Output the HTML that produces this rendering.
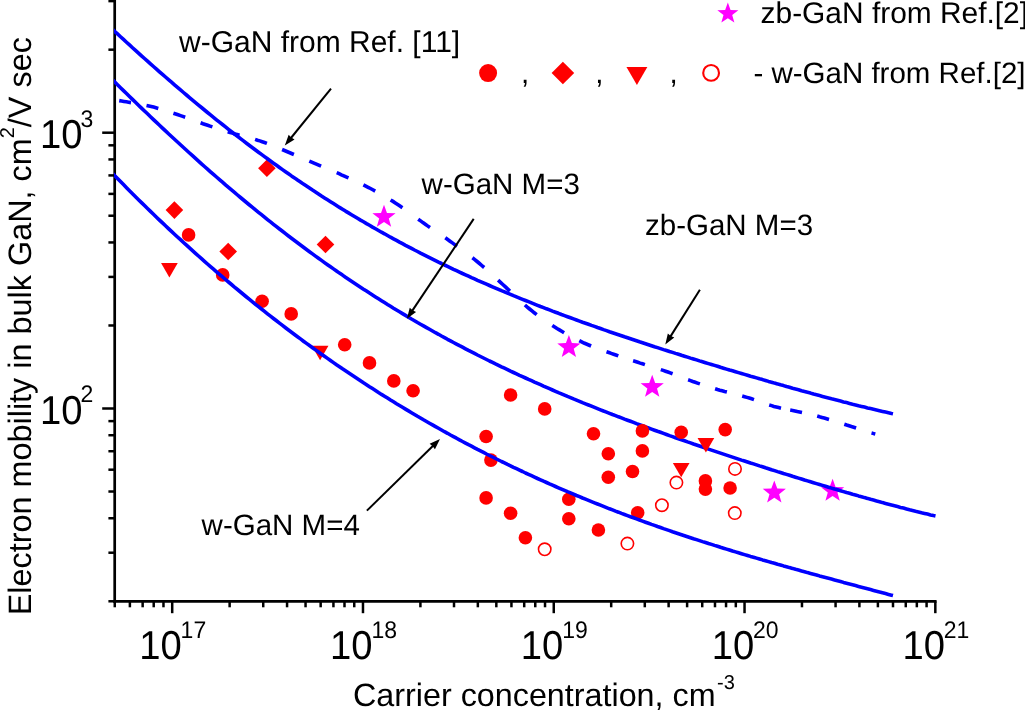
<!DOCTYPE html>
<html><head><meta charset="utf-8"><title>Electron mobility in bulk GaN</title>
<style>html,body{margin:0;padding:0;background:#fff;overflow:hidden}svg{display:block}</style>
</head><body>
<svg width="1025" height="710" viewBox="0 0 1025 710">
<rect x="0" y="0" width="1025" height="710" fill="#fff"/>
<g stroke="#000" stroke-width="2.7" fill="none">
<line x1="114.7" y1="0" x2="114.7" y2="602.8"/>
<line x1="113.4" y1="601.4" x2="936.6" y2="601.4"/>
</g>
<g stroke="#000" stroke-width="2.5" fill="none">
<line x1="108.4" y1="601.28" x2="114.7" y2="601.28"/>
<line x1="108.4" y1="552.71" x2="114.7" y2="552.71"/>
<line x1="108.4" y1="518.25" x2="114.7" y2="518.25"/>
<line x1="108.4" y1="491.52" x2="114.7" y2="491.52"/>
<line x1="108.4" y1="469.69" x2="114.7" y2="469.69"/>
<line x1="108.4" y1="451.22" x2="114.7" y2="451.22"/>
<line x1="108.4" y1="435.23" x2="114.7" y2="435.23"/>
<line x1="108.4" y1="421.12" x2="114.7" y2="421.12"/>
<line x1="102.2" y1="408.50" x2="114.7" y2="408.50"/>
<line x1="108.4" y1="325.48" x2="114.7" y2="325.48"/>
<line x1="108.4" y1="276.91" x2="114.7" y2="276.91"/>
<line x1="108.4" y1="242.45" x2="114.7" y2="242.45"/>
<line x1="108.4" y1="215.72" x2="114.7" y2="215.72"/>
<line x1="108.4" y1="193.89" x2="114.7" y2="193.89"/>
<line x1="108.4" y1="175.42" x2="114.7" y2="175.42"/>
<line x1="108.4" y1="159.43" x2="114.7" y2="159.43"/>
<line x1="108.4" y1="145.32" x2="114.7" y2="145.32"/>
<line x1="102.2" y1="132.70" x2="114.7" y2="132.70"/>
<line x1="108.4" y1="49.68" x2="114.7" y2="49.68"/>
<line x1="108.4" y1="1.11" x2="114.7" y2="1.11"/>
<line x1="114.77" y1="601.4" x2="114.77" y2="607.3"/>
<line x1="129.88" y1="601.4" x2="129.88" y2="607.3"/>
<line x1="142.65" y1="601.4" x2="142.65" y2="607.3"/>
<line x1="153.71" y1="601.4" x2="153.71" y2="607.3"/>
<line x1="163.47" y1="601.4" x2="163.47" y2="607.3"/>
<line x1="172.20" y1="601.4" x2="172.20" y2="613.2"/>
<line x1="229.63" y1="601.4" x2="229.63" y2="607.3"/>
<line x1="263.23" y1="601.4" x2="263.23" y2="607.3"/>
<line x1="287.06" y1="601.4" x2="287.06" y2="607.3"/>
<line x1="305.55" y1="601.4" x2="305.55" y2="607.3"/>
<line x1="320.66" y1="601.4" x2="320.66" y2="607.3"/>
<line x1="333.43" y1="601.4" x2="333.43" y2="607.3"/>
<line x1="344.49" y1="601.4" x2="344.49" y2="607.3"/>
<line x1="354.25" y1="601.4" x2="354.25" y2="607.3"/>
<line x1="362.98" y1="601.4" x2="362.98" y2="613.2"/>
<line x1="420.41" y1="601.4" x2="420.41" y2="607.3"/>
<line x1="454.01" y1="601.4" x2="454.01" y2="607.3"/>
<line x1="477.84" y1="601.4" x2="477.84" y2="607.3"/>
<line x1="496.33" y1="601.4" x2="496.33" y2="607.3"/>
<line x1="511.44" y1="601.4" x2="511.44" y2="607.3"/>
<line x1="524.21" y1="601.4" x2="524.21" y2="607.3"/>
<line x1="535.27" y1="601.4" x2="535.27" y2="607.3"/>
<line x1="545.03" y1="601.4" x2="545.03" y2="607.3"/>
<line x1="553.76" y1="601.4" x2="553.76" y2="613.2"/>
<line x1="611.19" y1="601.4" x2="611.19" y2="607.3"/>
<line x1="644.79" y1="601.4" x2="644.79" y2="607.3"/>
<line x1="668.62" y1="601.4" x2="668.62" y2="607.3"/>
<line x1="687.11" y1="601.4" x2="687.11" y2="607.3"/>
<line x1="702.22" y1="601.4" x2="702.22" y2="607.3"/>
<line x1="714.99" y1="601.4" x2="714.99" y2="607.3"/>
<line x1="726.05" y1="601.4" x2="726.05" y2="607.3"/>
<line x1="735.81" y1="601.4" x2="735.81" y2="607.3"/>
<line x1="744.54" y1="601.4" x2="744.54" y2="613.2"/>
<line x1="801.97" y1="601.4" x2="801.97" y2="607.3"/>
<line x1="835.57" y1="601.4" x2="835.57" y2="607.3"/>
<line x1="859.40" y1="601.4" x2="859.40" y2="607.3"/>
<line x1="877.89" y1="601.4" x2="877.89" y2="607.3"/>
<line x1="893.00" y1="601.4" x2="893.00" y2="607.3"/>
<line x1="905.77" y1="601.4" x2="905.77" y2="607.3"/>
<line x1="916.83" y1="601.4" x2="916.83" y2="607.3"/>
<line x1="926.59" y1="601.4" x2="926.59" y2="607.3"/>
<line x1="935.32" y1="601.4" x2="935.32" y2="613.2"/>
</g>
<clipPath id="pc"><rect x="113.9" y="0" width="911" height="710"/></clipPath>
<g fill="#ff00ff">
<polygon points="384.00,204.80 386.98,212.90 395.60,213.23 388.82,218.56 391.17,226.87 384.00,222.06 376.83,226.87 379.18,218.56 372.40,213.23 381.02,212.90"/>
<polygon points="568.90,335.00 571.88,343.10 580.50,343.43 573.72,348.76 576.07,357.07 568.90,352.26 561.73,357.07 564.08,348.76 557.30,343.43 565.92,343.10"/>
<polygon points="652.20,374.80 655.18,382.90 663.80,383.23 657.02,388.56 659.37,396.87 652.20,392.06 645.03,396.87 647.38,388.56 640.60,383.23 649.22,382.90"/>
<polygon points="774.30,480.40 777.28,488.50 785.90,488.83 779.12,494.16 781.47,502.47 774.30,497.66 767.13,502.47 769.48,494.16 762.70,488.83 771.32,488.50"/>
<polygon points="832.60,478.80 835.58,486.90 844.20,487.23 837.42,492.56 839.77,500.87 832.60,496.06 825.43,500.87 827.78,492.56 821.00,487.23 829.62,486.90"/>
</g>
<g fill="#ff0000">
<polygon points="174.40,201.30 183.20,210.10 174.40,218.90 165.60,210.10"/>
<polygon points="228.20,242.70 237.00,251.50 228.20,260.30 219.40,251.50"/>
<polygon points="266.90,159.40 275.70,168.20 266.90,177.00 258.10,168.20"/>
<polygon points="325.50,235.70 334.30,244.50 325.50,253.30 316.70,244.50"/>
</g>
<g fill="none" stroke="#0000ff" stroke-width="3.6" stroke-linejoin="round" clip-path="url(#pc)">
<path d="M111.5 28.4 L114.5 31.2 L117.5 33.9 L120.5 36.7 L123.5 39.4 L126.5 42.2 L129.5 44.9 L132.5 47.7 L135.5 50.4 L138.5 53.1 L141.5 55.8 L144.5 58.5 L147.5 61.2 L150.5 63.8 L153.5 66.5 L156.5 69.1 L159.5 71.8 L162.5 74.4 L165.5 77.0 L168.5 79.6 L171.5 82.2 L174.5 84.8 L177.5 87.4 L180.5 89.9 L183.5 92.5 L186.5 95.0 L189.5 97.6 L192.5 100.1 L195.5 102.6 L198.5 105.1 L201.5 107.5 L204.5 110.0 L207.5 112.5 L210.5 114.9 L213.5 117.3 L216.5 119.8 L219.5 122.2 L222.5 124.5 L225.5 126.9 L228.5 129.3 L231.5 131.6 L234.5 134.0 L237.5 136.3 L240.5 138.6 L243.5 140.9 L246.5 143.2 L249.5 145.5 L252.5 147.7 L255.5 150.0 L258.5 152.2 L261.5 154.4 L264.5 156.6 L267.5 158.8 L270.5 161.0 L273.5 163.2 L276.5 165.3 L279.5 167.5 L282.5 169.6 L285.5 171.7 L288.5 173.8 L291.5 175.9 L294.5 177.9 L297.5 180.0 L300.5 182.0 L303.5 184.1 L306.5 186.1 L309.5 188.1 L312.5 190.1 L315.5 192.0 L318.5 194.0 L321.5 196.0 L324.5 197.9 L327.5 199.8 L330.5 201.7 L333.5 203.6 L336.5 205.5 L339.5 207.4 L342.5 209.2 L345.5 211.1 L348.5 212.9 L351.5 214.7 L354.5 216.5 L357.5 218.3 L360.5 220.1 L363.5 221.8 L366.5 223.6 L369.5 225.3 L372.5 227.1 L375.5 228.8 L378.5 230.5 L381.5 232.2 L384.5 233.8 L387.5 235.5 L390.5 237.2 L393.5 238.8 L396.5 240.4 L399.5 242.1 L402.5 243.7 L405.5 245.3 L408.5 246.8 L411.5 248.4 L414.5 250.0 L417.5 251.5 L420.5 253.1 L423.5 254.6 L426.5 256.1 L429.5 257.6 L432.5 259.1 L435.5 260.6 L438.5 262.1 L441.5 263.5 L444.5 265.0 L447.5 266.4 L450.5 267.8 L453.5 269.3 L456.5 270.7 L459.5 272.1 L462.5 273.5 L465.5 274.8 L468.5 276.2 L471.5 277.6 L474.5 278.9 L477.5 280.3 L480.5 281.6 L483.5 282.9 L486.5 284.2 L489.5 285.5 L492.5 286.8 L495.5 288.1 L498.5 289.4 L501.5 290.7 L504.5 291.9 L507.5 293.2 L510.5 294.4 L513.5 295.7 L516.5 296.9 L519.5 298.1 L522.5 299.3 L525.5 300.5 L528.5 301.7 L531.5 302.9 L534.5 304.1 L537.5 305.3 L540.5 306.5 L543.5 307.6 L546.5 308.8 L549.5 309.9 L552.5 311.1 L555.5 312.2 L558.5 313.3 L561.5 314.5 L564.5 315.6 L567.5 316.7 L570.5 317.8 L573.5 318.9 L576.5 320.0 L579.5 321.1 L582.5 322.2 L585.5 323.2 L588.5 324.3 L591.5 325.4 L594.5 326.4 L597.5 327.5 L600.5 328.5 L603.5 329.6 L606.5 330.6 L609.5 331.7 L612.5 332.7 L615.5 333.7 L618.5 334.7 L621.5 335.7 L624.5 336.8 L627.5 337.8 L630.5 338.8 L633.5 339.8 L636.5 340.8 L639.5 341.8 L642.5 342.7 L645.5 343.7 L648.5 344.7 L651.5 345.7 L654.5 346.7 L657.5 347.6 L660.5 348.6 L663.5 349.6 L666.5 350.5 L669.5 351.5 L672.5 352.4 L675.5 353.4 L678.5 354.3 L681.5 355.3 L684.5 356.2 L687.5 357.1 L690.5 358.1 L693.5 359.0 L696.5 359.9 L699.5 360.9 L702.5 361.8 L705.5 362.7 L708.5 363.6 L711.5 364.5 L714.5 365.4 L717.5 366.3 L720.5 367.3 L723.5 368.2 L726.5 369.1 L729.5 370.0 L732.5 370.8 L735.5 371.7 L738.5 372.6 L741.5 373.5 L744.5 374.4 L747.5 375.3 L750.5 376.2 L753.5 377.0 L756.5 377.9 L759.5 378.8 L762.5 379.6 L765.5 380.5 L768.5 381.4 L771.5 382.2 L774.5 383.1 L777.5 383.9 L780.5 384.8 L783.5 385.6 L786.5 386.5 L789.5 387.3 L792.5 388.2 L795.5 389.0 L798.5 389.8 L801.5 390.7 L804.5 391.5 L807.5 392.3 L810.5 393.1 L813.5 394.0 L816.5 394.8 L819.5 395.6 L822.5 396.4 L825.5 397.2 L828.5 398.0 L831.5 398.8 L834.5 399.5 L837.5 400.3 L840.5 401.1 L843.5 401.9 L846.5 402.6 L849.5 403.4 L852.5 404.2 L855.5 404.9 L858.5 405.7 L861.5 406.4 L864.5 407.1 L867.5 407.9 L870.5 408.6 L873.5 409.3 L876.5 410.0 L879.5 410.7 L882.5 411.4 L885.5 412.1 L888.5 412.8 L891.5 413.5 L893.0 413.8"/>
<path d="M111.5 78.8 L114.5 81.8 L117.5 84.7 L120.5 87.7 L123.5 90.6 L126.5 93.5 L129.5 96.5 L132.5 99.4 L135.5 102.3 L138.5 105.2 L141.5 108.1 L144.5 111.0 L147.5 113.8 L150.5 116.7 L153.5 119.6 L156.5 122.4 L159.5 125.2 L162.5 128.1 L165.5 130.9 L168.5 133.7 L171.5 136.5 L174.5 139.3 L177.5 142.0 L180.5 144.8 L183.5 147.5 L186.5 150.3 L189.5 153.0 L192.5 155.7 L195.5 158.4 L198.5 161.1 L201.5 163.8 L204.5 166.5 L207.5 169.1 L210.5 171.8 L213.5 174.4 L216.5 177.0 L219.5 179.6 L222.5 182.2 L225.5 184.8 L228.5 187.4 L231.5 189.9 L234.5 192.4 L237.5 195.0 L240.5 197.5 L243.5 200.0 L246.5 202.5 L249.5 205.0 L252.5 207.4 L255.5 209.9 L258.5 212.3 L261.5 214.7 L264.5 217.2 L267.5 219.6 L270.5 221.9 L273.5 224.3 L276.5 226.7 L279.5 229.0 L282.5 231.3 L285.5 233.7 L288.5 236.0 L291.5 238.3 L294.5 240.5 L297.5 242.8 L300.5 245.0 L303.5 247.3 L306.5 249.5 L309.5 251.7 L312.5 253.9 L315.5 256.1 L318.5 258.3 L321.5 260.4 L324.5 262.6 L327.5 264.7 L330.5 266.8 L333.5 268.9 L336.5 271.0 L339.5 273.1 L342.5 275.1 L345.5 277.2 L348.5 279.2 L351.5 281.2 L354.5 283.2 L357.5 285.2 L360.5 287.2 L363.5 289.2 L366.5 291.1 L369.5 293.1 L372.5 295.0 L375.5 296.9 L378.5 298.8 L381.5 300.7 L384.5 302.6 L387.5 304.5 L390.5 306.3 L393.5 308.2 L396.5 310.0 L399.5 311.8 L402.5 313.6 L405.5 315.4 L408.5 317.2 L411.5 319.0 L414.5 320.7 L417.5 322.5 L420.5 324.2 L423.5 325.9 L426.5 327.6 L429.5 329.3 L432.5 331.0 L435.5 332.7 L438.5 334.3 L441.5 336.0 L444.5 337.6 L447.5 339.3 L450.5 340.9 L453.5 342.5 L456.5 344.1 L459.5 345.7 L462.5 347.2 L465.5 348.8 L468.5 350.4 L471.5 351.9 L474.5 353.4 L477.5 355.0 L480.5 356.5 L483.5 358.0 L486.5 359.5 L489.5 361.0 L492.5 362.4 L495.5 363.9 L498.5 365.3 L501.5 366.8 L504.5 368.2 L507.5 369.6 L510.5 371.1 L513.5 372.5 L516.5 373.9 L519.5 375.3 L522.5 376.6 L525.5 378.0 L528.5 379.4 L531.5 380.7 L534.5 382.1 L537.5 383.4 L540.5 384.7 L543.5 386.1 L546.5 387.4 L549.5 388.7 L552.5 390.0 L555.5 391.3 L558.5 392.6 L561.5 393.8 L564.5 395.1 L567.5 396.4 L570.5 397.6 L573.5 398.9 L576.5 400.1 L579.5 401.3 L582.5 402.6 L585.5 403.8 L588.5 405.0 L591.5 406.2 L594.5 407.4 L597.5 408.6 L600.5 409.8 L603.5 411.0 L606.5 412.1 L609.5 413.3 L612.5 414.5 L615.5 415.6 L618.5 416.8 L621.5 417.9 L624.5 419.1 L627.5 420.2 L630.5 421.3 L633.5 422.4 L636.5 423.6 L639.5 424.7 L642.5 425.8 L645.5 426.9 L648.5 428.0 L651.5 429.1 L654.5 430.2 L657.5 431.3 L660.5 432.3 L663.5 433.4 L666.5 434.5 L669.5 435.6 L672.5 436.6 L675.5 437.7 L678.5 438.7 L681.5 439.8 L684.5 440.8 L687.5 441.9 L690.5 442.9 L693.5 444.0 L696.5 445.0 L699.5 446.0 L702.5 447.0 L705.5 448.1 L708.5 449.1 L711.5 450.1 L714.5 451.1 L717.5 452.1 L720.5 453.1 L723.5 454.1 L726.5 455.1 L729.5 456.1 L732.5 457.1 L735.5 458.1 L738.5 459.1 L741.5 460.1 L744.5 461.0 L747.5 462.0 L750.5 463.0 L753.5 463.9 L756.5 464.9 L759.5 465.9 L762.5 466.8 L765.5 467.8 L768.5 468.7 L771.5 469.7 L774.5 470.6 L777.5 471.6 L780.5 472.5 L783.5 473.5 L786.5 474.4 L789.5 475.3 L792.5 476.3 L795.5 477.2 L798.5 478.1 L801.5 479.0 L804.5 480.0 L807.5 480.9 L810.5 481.8 L813.5 482.7 L816.5 483.6 L819.5 484.5 L822.5 485.4 L825.5 486.3 L828.5 487.2 L831.5 488.1 L834.5 489.0 L837.5 489.8 L840.5 490.7 L843.5 491.6 L846.5 492.5 L849.5 493.3 L852.5 494.2 L855.5 495.0 L858.5 495.9 L861.5 496.7 L864.5 497.6 L867.5 498.4 L870.5 499.3 L873.5 500.1 L876.5 500.9 L879.5 501.7 L882.5 502.6 L885.5 503.4 L888.5 504.2 L891.5 505.0 L894.5 505.8 L897.5 506.6 L900.5 507.4 L903.5 508.1 L906.5 508.9 L909.5 509.7 L912.5 510.4 L915.5 511.2 L918.5 511.9 L921.5 512.7 L924.5 513.4 L927.5 514.1 L930.5 514.9 L933.5 515.6 L935.5 516.0"/>
</g>
<g fill="none" stroke="#0000ff" stroke-width="3.6">
<path d="M119.2 100.6 L121.6 101.0 L123.9 101.4 L126.3 101.8 L128.6 102.2 L131.0 102.6"/>
<path d="M146.5 105.5 L148.9 106.0 L151.2 106.5 L153.6 107.1 L155.9 107.7 L158.3 108.4"/>
<path d="M173.4 113.2 L175.8 114.0 L178.1 114.8 L180.5 115.6 L182.8 116.4 L185.2 117.2"/>
<path d="M200.6 122.8 L203.0 123.7 L205.3 124.5 L207.7 125.3 L210.0 126.1 L212.4 126.9"/>
<path d="M227.7 131.7 L230.1 132.4 L232.4 133.1 L234.8 133.9 L237.1 134.5 L239.5 135.2"/>
<path d="M255.1 139.4 L257.5 140.2 L259.8 140.9 L262.2 141.7 L264.5 142.5 L266.9 143.4"/>
<path d="M282.1 149.5 L284.5 150.5 L286.8 151.5 L289.2 152.5 L291.5 153.5 L293.9 154.5"/>
<path d="M309.3 161.2 L311.7 162.2 L314.0 163.2 L316.4 164.2 L318.7 165.2 L321.1 166.2"/>
<path d="M336.7 172.7 L339.1 173.7 L341.4 174.8 L343.8 175.8 L346.1 176.9 L348.5 177.9"/>
<path d="M363.4 184.9 L365.8 186.1 L368.1 187.3 L370.5 188.5 L372.8 189.8 L375.2 191.1"/>
<path d="M390.6 200.0 L393.0 201.4 L395.3 202.9 L397.7 204.5 L400.0 206.1 L402.4 207.7"/>
<path d="M418.2 219.2 L420.6 220.9 L422.9 222.6 L425.3 224.2 L427.6 225.9 L430.0 227.5"/>
<path d="M445.3 237.8 L447.7 239.5 L450.0 241.2 L452.4 242.9 L454.7 244.6 L457.1 246.3"/>
<path d="M472.4 257.8 L474.8 259.6 L477.1 261.5 L479.5 263.5 L481.8 265.5 L484.2 267.5"/>
<path d="M498.1 280.2 L500.5 282.4 L502.8 284.5 L505.2 286.7 L507.5 288.9 L509.9 291.1"/>
<path d="M524.9 305.0 L527.3 307.1 L529.6 309.0 L532.0 310.9 L534.3 312.8 L536.7 314.6"/>
<path d="M552.3 325.5 L554.7 327.0 L557.0 328.5 L559.4 329.9 L561.7 331.3 L564.1 332.7"/>
<path d="M579.3 340.7 L581.7 341.9 L584.0 343.0 L586.4 344.0 L588.7 345.0 L591.1 346.0"/>
<path d="M606.5 351.7 L608.9 352.5 L611.2 353.4 L613.6 354.2 L615.9 355.0 L618.3 355.9"/>
<path d="M633.1 360.8 L635.5 361.5 L637.8 362.3 L640.2 363.1 L642.5 363.8 L644.9 364.6"/>
<path d="M660.8 369.6 L663.2 370.4 L665.5 371.2 L667.9 372.0 L670.2 372.9 L672.6 373.8"/>
<path d="M688.1 379.8 L690.5 380.6 L692.8 381.5 L695.2 382.3 L697.5 383.1 L699.9 383.9"/>
<path d="M715.1 388.7 L717.5 389.5 L719.8 390.2 L722.2 390.8 L724.5 391.5 L726.9 392.1"/>
<path d="M742.2 396.0 L744.6 396.7 L746.9 397.4 L749.3 398.1 L751.6 398.8 L754.0 399.6"/>
<path d="M769.2 404.9 L771.6 405.6 L773.9 406.4 L776.3 407.0 L778.6 407.6 L781.0 408.2"/>
<path d="M790.2 410.0 L792.6 410.4 L794.9 410.9 L797.3 411.5 L799.6 412.0 L802.0 412.5"/>
<path d="M817.2 416.1 L819.6 416.8 L821.9 417.4 L824.3 418.0 L826.6 418.7 L829.0 419.4"/>
<path d="M844.3 424.2 L846.7 425.0 L849.0 425.7 L851.4 426.5 L853.7 427.2 L856.1 428.0"/>
<path d="M871.5 432.9 L872.3 433.1 L873.0 433.4 L873.8 433.6 L874.5 433.9 L875.3 434.1"/>
</g>
<g fill="#ff0000">
<circle cx="188.6" cy="234.9" r="6.8"/>
<circle cx="222.7" cy="274.9" r="6.8"/>
<circle cx="262.1" cy="301.3" r="6.8"/>
<circle cx="291.2" cy="313.9" r="6.8"/>
<circle cx="344.7" cy="344.8" r="6.8"/>
<circle cx="369.5" cy="362.9" r="6.8"/>
<circle cx="393.8" cy="380.9" r="6.8"/>
<circle cx="413.1" cy="390.7" r="6.8"/>
<circle cx="486.1" cy="436.5" r="6.8"/>
<circle cx="490.9" cy="460.1" r="6.8"/>
<circle cx="486.1" cy="497.9" r="6.8"/>
<circle cx="510.6" cy="395.0" r="6.8"/>
<circle cx="510.6" cy="513.2" r="6.8"/>
<circle cx="525.4" cy="537.7" r="6.8"/>
<circle cx="544.7" cy="408.9" r="6.8"/>
<circle cx="568.8" cy="499.2" r="6.8"/>
<circle cx="568.8" cy="518.7" r="6.8"/>
<circle cx="593.5" cy="433.7" r="6.8"/>
<circle cx="598.4" cy="530.0" r="6.8"/>
<circle cx="608.3" cy="453.7" r="6.8"/>
<circle cx="608.3" cy="477.3" r="6.8"/>
<circle cx="632.5" cy="471.5" r="6.8"/>
<circle cx="637.7" cy="512.7" r="6.8"/>
<circle cx="642.4" cy="430.9" r="6.8"/>
<circle cx="642.4" cy="450.9" r="6.8"/>
<circle cx="681.2" cy="432.2" r="6.8"/>
<circle cx="705.4" cy="480.9" r="6.8"/>
<circle cx="705.4" cy="489.1" r="6.8"/>
<circle cx="725.2" cy="429.6" r="6.8"/>
<circle cx="730.1" cy="488.0" r="6.8"/>
<polygon points="161.05,263.10 177.75,263.10 169.40,277.56"/>
<polygon points="311.75,345.80 328.45,345.80 320.10,360.26"/>
<polygon points="697.55,438.00 714.25,438.00 705.90,452.46"/>
<polygon points="672.85,462.90 689.55,462.90 681.20,477.36"/>
</g>
<g fill="none" stroke="#ff0000" stroke-width="1.6">
<circle cx="544.7" cy="549.3" r="6.2"/>
<circle cx="627.4" cy="543.6" r="6.2"/>
<circle cx="661.9" cy="505.2" r="6.2"/>
<circle cx="676.4" cy="482.6" r="6.2"/>
<circle cx="735.0" cy="468.9" r="6.2"/>
<circle cx="734.8" cy="513.1" r="6.2"/>
</g>
<path fill="none" stroke="#0000ff" stroke-width="3.6" stroke-linejoin="round" clip-path="url(#pc)" d="M111.5 172.3 L114.5 175.4 L117.5 178.5 L120.5 181.6 L123.5 184.6 L126.5 187.7 L129.5 190.7 L132.5 193.7 L135.5 196.7 L138.5 199.7 L141.5 202.6 L144.5 205.6 L147.5 208.5 L150.5 211.4 L153.5 214.3 L156.5 217.2 L159.5 220.1 L162.5 222.9 L165.5 225.7 L168.5 228.6 L171.5 231.4 L174.5 234.2 L177.5 237.0 L180.5 239.7 L183.5 242.5 L186.5 245.2 L189.5 247.9 L192.5 250.6 L195.5 253.3 L198.5 256.0 L201.5 258.7 L204.5 261.3 L207.5 264.0 L210.5 266.6 L213.5 269.2 L216.5 271.8 L219.5 274.4 L222.5 276.9 L225.5 279.5 L228.5 282.0 L231.5 284.5 L234.5 287.1 L237.5 289.5 L240.5 292.0 L243.5 294.5 L246.5 297.0 L249.5 299.4 L252.5 301.8 L255.5 304.3 L258.5 306.7 L261.5 309.0 L264.5 311.4 L267.5 313.8 L270.5 316.1 L273.5 318.5 L276.5 320.8 L279.5 323.1 L282.5 325.4 L285.5 327.7 L288.5 330.0 L291.5 332.2 L294.5 334.5 L297.5 336.7 L300.5 338.9 L303.5 341.2 L306.5 343.4 L309.5 345.5 L312.5 347.7 L315.5 349.9 L318.5 352.0 L321.5 354.2 L324.5 356.3 L327.5 358.4 L330.5 360.5 L333.5 362.6 L336.5 364.7 L339.5 366.7 L342.5 368.8 L345.5 370.8 L348.5 372.8 L351.5 374.8 L354.5 376.8 L357.5 378.8 L360.5 380.8 L363.5 382.8 L366.5 384.7 L369.5 386.7 L372.5 388.6 L375.5 390.5 L378.5 392.5 L381.5 394.4 L384.5 396.2 L387.5 398.1 L390.5 400.0 L393.5 401.8 L396.5 403.7 L399.5 405.5 L402.5 407.3 L405.5 409.1 L408.5 410.9 L411.5 412.7 L414.5 414.5 L417.5 416.3 L420.5 418.0 L423.5 419.8 L426.5 421.5 L429.5 423.2 L432.5 424.9 L435.5 426.6 L438.5 428.3 L441.5 430.0 L444.5 431.7 L447.5 433.3 L450.5 435.0 L453.5 436.6 L456.5 438.2 L459.5 439.9 L462.5 441.5 L465.5 443.1 L468.5 444.7 L471.5 446.2 L474.5 447.8 L477.5 449.4 L480.5 450.9 L483.5 452.4 L486.5 454.0 L489.5 455.5 L492.5 457.0 L495.5 458.5 L498.5 460.0 L501.5 461.5 L504.5 462.9 L507.5 464.4 L510.5 465.8 L513.5 467.3 L516.5 468.7 L519.5 470.1 L522.5 471.5 L525.5 473.0 L528.5 474.3 L531.5 475.7 L534.5 477.1 L537.5 478.5 L540.5 479.8 L543.5 481.2 L546.5 482.5 L549.5 483.9 L552.5 485.2 L555.5 486.5 L558.5 487.8 L561.5 489.1 L564.5 490.4 L567.5 491.7 L570.5 492.9 L573.5 494.2 L576.5 495.5 L579.5 496.7 L582.5 498.0 L585.5 499.2 L588.5 500.4 L591.5 501.6 L594.5 502.8 L597.5 504.0 L600.5 505.2 L603.5 506.4 L606.5 507.6 L609.5 508.8 L612.5 509.9 L615.5 511.1 L618.5 512.2 L621.5 513.4 L624.5 514.5 L627.5 515.6 L630.5 516.7 L633.5 517.8 L636.5 518.9 L639.5 520.0 L642.5 521.1 L645.5 522.2 L648.5 523.3 L651.5 524.4 L654.5 525.4 L657.5 526.5 L660.5 527.5 L663.5 528.6 L666.5 529.6 L669.5 530.6 L672.5 531.7 L675.5 532.7 L678.5 533.7 L681.5 534.7 L684.5 535.7 L687.5 536.7 L690.5 537.7 L693.5 538.7 L696.5 539.6 L699.5 540.6 L702.5 541.6 L705.5 542.5 L708.5 543.5 L711.5 544.4 L714.5 545.4 L717.5 546.3 L720.5 547.3 L723.5 548.2 L726.5 549.1 L729.5 550.0 L732.5 551.0 L735.5 551.9 L738.5 552.8 L741.5 553.7 L744.5 554.6 L747.5 555.5 L750.5 556.4 L753.5 557.2 L756.5 558.1 L759.5 559.0 L762.5 559.9 L765.5 560.7 L768.5 561.6 L771.5 562.5 L774.5 563.3 L777.5 564.2 L780.5 565.0 L783.5 565.9 L786.5 566.7 L789.5 567.6 L792.5 568.4 L795.5 569.3 L798.5 570.1 L801.5 570.9 L804.5 571.7 L807.5 572.6 L810.5 573.4 L813.5 574.2 L816.5 575.0 L819.5 575.9 L822.5 576.7 L825.5 577.5 L828.5 578.3 L831.5 579.1 L834.5 579.9 L837.5 580.7 L840.5 581.5 L843.5 582.4 L846.5 583.2 L849.5 584.0 L852.5 584.8 L855.5 585.6 L858.5 586.4 L861.5 587.2 L864.5 588.0 L867.5 588.8 L870.5 589.6 L873.5 590.4 L876.5 591.2 L879.5 592.0 L882.5 592.8 L885.5 593.6 L888.5 594.4 L891.5 595.2 L893.0 595.6"/>
<line x1="331.0" y1="88.7" x2="288.9" y2="140.5" stroke="#000" stroke-width="2"/><polygon fill="#000" points="284.80,145.50 288.67,134.72 291.27,137.54 294.56,139.52"/>
<line x1="473.7" y1="218.9" x2="410.5" y2="313.4" stroke="#000" stroke-width="2"/><polygon fill="#000" points="406.90,318.80 409.74,307.71 412.60,310.27 416.06,311.93"/>
<line x1="699.9" y1="289.7" x2="668.8" y2="339.1" stroke="#000" stroke-width="2"/><polygon fill="#000" points="665.30,344.60 667.84,333.44 670.77,335.92 674.27,337.49"/>
<line x1="366.9" y1="510.6" x2="435.4" y2="443.5" stroke="#000" stroke-width="2"/><polygon fill="#000" points="440.00,439.00 434.94,449.27 432.67,446.18 429.63,443.84"/>
<g font-family="Liberation Sans, Arial, sans-serif" text-rendering="geometricPrecision" fill="#000">
<text transform="translate(139.30,659.20) scale(1,1.057)" font-size="38.2">10</text>
<text transform="translate(180.60,638.30) scale(1,1.041)" font-size="23">17</text>
<text transform="translate(330.08,659.20) scale(1,1.057)" font-size="38.2">10</text>
<text transform="translate(371.38,638.30) scale(1,1.041)" font-size="23">18</text>
<text transform="translate(520.86,659.20) scale(1,1.057)" font-size="38.2">10</text>
<text transform="translate(562.16,638.30) scale(1,1.041)" font-size="23">19</text>
<text transform="translate(711.64,659.20) scale(1,1.057)" font-size="38.2">10</text>
<text transform="translate(752.94,638.30) scale(1,1.041)" font-size="23">20</text>
<text transform="translate(902.42,659.20) scale(1,1.057)" font-size="38.2">10</text>
<text transform="translate(943.72,638.30) scale(1,1.041)" font-size="23">21</text>
<text transform="translate(40.00,147.70) scale(1,1.057)" font-size="38.2">10</text>
<text transform="translate(80.60,126.50) scale(1,1.041)" font-size="23">3</text>
<text transform="translate(40.00,423.50) scale(1,1.057)" font-size="38.2">10</text>
<text transform="translate(80.60,402.30) scale(1,1.041)" font-size="23">2</text>
</g>
<g font-family="Liberation Sans, Arial, sans-serif" text-rendering="geometricPrecision" fill="#000">
<text x="353.00" y="705.50" font-size="32.3">Carrier concentration, cm<tspan font-size="20" dx="1.5" dy="-17">-3</tspan></text>
<text font-size="32.4" transform="translate(30.9,615.3) rotate(-90)">Electron mobility in bulk GaN, cm<tspan font-size="20" dy="-17">2</tspan><tspan dy="17">/V sec</tspan></text>
</g>
<g font-family="Liberation Sans, Arial, sans-serif" text-rendering="geometricPrecision" fill="#000">
<text x="179.00" y="51.80" font-size="30">w-GaN from Ref. [11]</text>
<text x="421.60" y="193.60" font-size="29.5">w-GaN M=3</text>
<text x="645.00" y="234.70" font-size="29.5">zb-GaN M=3</text>
<text x="201.60" y="535.10" font-size="29.5">w-GaN M=4</text>
<text x="760.60" y="23.40" font-size="29.9">zb-GaN from Ref.[2]</text>
<text x="521.00" y="82.80" font-size="29.5">,</text>
<text x="595.30" y="82.80" font-size="29.5">,</text>
<text x="669.50" y="82.80" font-size="29.5">,</text>
<text x="753.40" y="82.80" font-size="29.5">- w-GaN from Ref.[2]</text>
</g>
<polygon fill="#ff00ff" points="727.85,2.60 730.54,9.93 738.35,10.23 732.21,15.06 734.34,22.57 727.85,18.22 721.36,22.57 723.49,15.06 717.35,10.23 725.16,9.93"/>
<circle fill="#ff0000" cx="488.1" cy="73.1" r="9"/>
<polygon fill="#ff0000" points="562.90,61.70 574.20,73.00 562.90,84.30 551.60,73.00"/>
<polygon fill="#ff0000" points="626.45,67.00 647.35,67.00 636.90,85.10"/>
<circle fill="none" stroke="#ff0000" stroke-width="2.1" cx="711.1" cy="72.9" r="7.9"/>
</svg>
</body></html>
